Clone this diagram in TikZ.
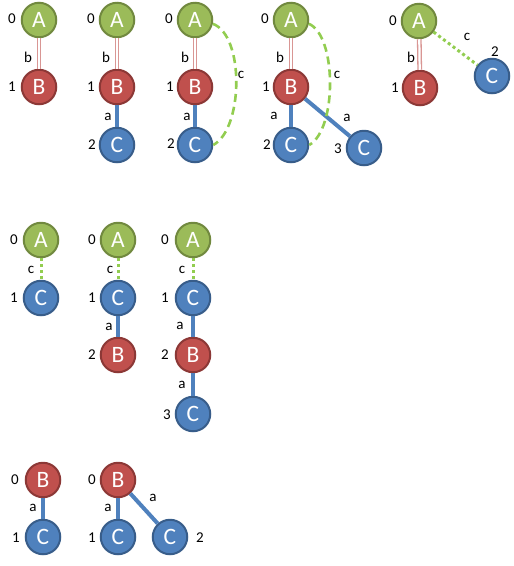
\documentclass[tikz,border=0pt]{standalone}
\usepackage{fontspec}
\setmainfont{Carlito}
\definecolor{gF}{HTML}{9BBB59}
\definecolor{gD}{HTML}{71893F}
\definecolor{rF}{HTML}{C0504D}
\definecolor{rD}{HTML}{8C3836}
\definecolor{bF}{HTML}{4F81BD}
\definecolor{bD}{HTML}{385D8A}
\definecolor{pinkE}{HTML}{D99694}
\definecolor{lgreen}{HTML}{92CD50}
\tikzset{
  vtx/.style={circle, line width=2pt, minimum size=34.5pt, inner sep=0pt, text=white, font=\fontsize{23.5}{23.5}\selectfont},
  vA/.style={vtx, fill=gF, draw=gD},
  vB/.style={vtx, fill=rF, draw=rD},
  vC/.style={vtx, fill=bF, draw=bD},
  lbl/.style={inner sep=0pt, font=\fontsize{15}{15}\selectfont, text=black},
  ea/.style={draw=bF, line width=4pt},
  eb/.style={draw=pinkE, line width=1.3pt, double=white, double distance=2.2pt},
  ecd/.style={draw=lgreen, line width=2.6pt, dash pattern=on 8pt off 5pt},
  ecdot/.style={draw=lgreen, line width=3pt, dash pattern=on 3pt off 3pt},
}
\begin{document}
\begin{tikzpicture}[x=1pt,y=-1pt]
\useasboundingbox (0,0) rectangle (514,566);
% ---------- Row 1 ----------
% G1
\node[vA] (a1) at (39,20) {A};
\node[vB] (b1) at (39,87) {B};
\draw[eb] (a1) -- (b1);
\node[lbl] (a1n) at (12,19) {0};
\node[lbl] (b1n) at (12,87) {1};
\node[lbl] (e1b) at (28,57) {b};
% G2
\node[vA] (a2) at (117,20) {A};
\node[vB] (b2) at (117,87) {B};
\node[vC] (c2) at (117,145) {C};
\draw[eb] (a2) -- (b2);
\draw[ea] (b2) -- (c2);
\node[lbl] (a2n) at (91,19) {0};
\node[lbl] (b2n) at (91,87) {1};
\node[lbl] (c2n) at (92,145) {2};
\node[lbl] (e2b) at (106,57) {b};
\node[lbl] (e2a) at (108,117) {a};
% G3
\node[vA] (a3) at (195,20) {A};
\node[vB] (b3) at (195,87) {B};
\node[vC] (c3) at (195,145) {C};
\draw[eb] (a3) -- (b3);
\draw[ea] (b3) -- (c3);
\draw[ecd] (a3.-12) .. controls +(32,12) and +(30,-16) .. (c3.0);
\node[lbl] (a3n) at (169,19) {0};
\node[lbl] (b3n) at (170,87) {1};
\node[lbl] (c3n) at (171,144) {2};
\node[lbl] (e3b) at (185,57) {b};
\node[lbl] (e3a) at (187,117) {a};
\node[lbl] (e3c) at (241,75) {c};
% G4
\node[vA] (a4) at (291,20) {A};
\node[vB] (b4) at (291,87) {B};
\node[vC] (c4) at (291,145) {C};
\node[vC] (d4) at (364,148) {C};
\draw[eb] (a4) -- (b4);
\draw[ea] (b4) -- (c4);
\draw[ea] (b4) -- (d4);
\draw[ecd] (a4.-12) .. controls +(28,12) and +(28,-16) .. (c4.0);
\node[lbl] (a4n) at (265,19) {0};
\node[lbl] (b4n) at (266,87) {1};
\node[lbl] (c4n) at (267,145) {2};
\node[lbl] (d4n) at (338,149) {3};
\node[lbl] (e4b) at (280,57) {b};
\node[lbl] (e4a) at (274,116) {a};
\node[lbl] (e4a2) at (347,118) {a};
\node[lbl] (e4c) at (337,75) {c};
% G5
\node[vA] (a5) at (419,21) {A};
\node[vB] (b5) at (420,88) {B};
\node[vC] (c5) at (492,76) {C};
\draw[eb] (a5) -- (b5);
\draw[ecdot] (a5) -- (c5);
\node[lbl] (a5n) at (393,21) {0};
\node[lbl] (b5n) at (395,88) {1};
\node[lbl] (c5n) at (495,52) {2};
\node[lbl] (e5b) at (411,57) {b};
\node[lbl] (e5c) at (467,37) {c};
% ---------- Row 2 ----------
% G6
\node[vA] (a6) at (41,240) {A};
\node[vC] (c6) at (41,298) {C};
\draw[ecdot] (a6) -- (c6);
\node[lbl] (a6n) at (14,240) {0};
\node[lbl] (c6n) at (14,298) {1};
\node[lbl] (e6c) at (31,270) {c};
% G7
\node[vA] (a7) at (118,240) {A};
\node[vC] (c7) at (118,298) {C};
\node[vB] (b7) at (118,355) {B};
\draw[ecdot] (a7) -- (c7);
\draw[ea] (c7) -- (b7);
\node[lbl] (a7n) at (92,240) {0};
\node[lbl] (c7n) at (92,298) {1};
\node[lbl] (b7n) at (92,355) {2};
\node[lbl] (e7c) at (110,270) {c};
\node[lbl] (e7a) at (109,327) {a};
% G8
\node[vA] (a8) at (193,240) {A};
\node[vC] (c8) at (193,298) {C};
\node[vB] (b8) at (193,355) {B};
\node[vC] (d8) at (193,414) {C};
\draw[ecdot] (a8) -- (c8);
\draw[ea] (c8) -- (b8);
\draw[ea] (b8) -- (d8);
\node[lbl] (a8n) at (165,240) {0};
\node[lbl] (c8n) at (165,298) {1};
\node[lbl] (b8n) at (165,355) {2};
\node[lbl] (d8n) at (167,415) {3};
\node[lbl] (e8c) at (182,270) {c};
\node[lbl] (e8a) at (180,326) {a};
\node[lbl] (e8a2) at (182,385) {a};
% ---------- Row 3 ----------
% G9
\node[vB] (b9) at (43,480) {B};
\node[vC] (c9) at (43,537) {C};
\draw[ea] (b9) -- (c9);
\node[lbl] (b9n) at (15,480) {0};
\node[lbl] (c9n) at (16,538) {1};
\node[lbl] (e9a) at (33,508) {a};
% G10
\node[vB] (b10) at (118,480) {B};
\node[vC] (c10) at (118,537) {C};
\node[vC] (d10) at (170,537) {C};
\draw[ea] (b10) -- (c10);
\draw[ea] (b10) -- (d10);
\node[lbl] (b10n) at (92,480) {0};
\node[lbl] (c10n) at (92,538) {1};
\node[lbl] (d10n) at (200,538) {2};
\node[lbl] (e10a) at (108,508) {a};
\node[lbl] (e10a2) at (153,498) {a};
\end{tikzpicture}
\end{document}
